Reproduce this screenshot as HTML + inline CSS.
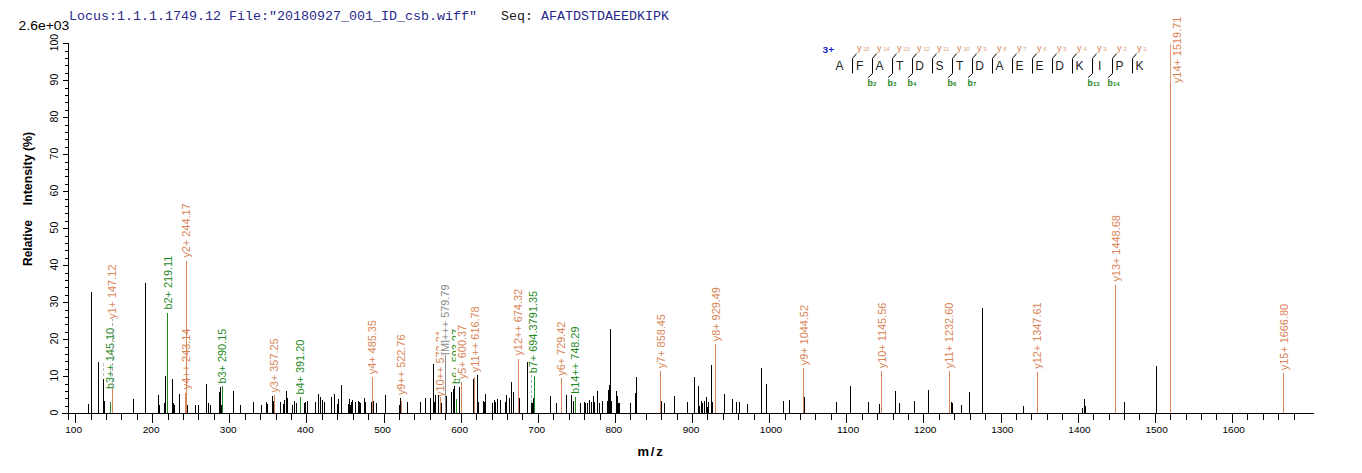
<!DOCTYPE html><html><head><meta charset="utf-8"><style>html,body{margin:0;padding:0;background:#fff;overflow:hidden;width:1362px;height:473px;}svg{display:block;}text{font-family:"Liberation Sans",sans-serif;}</style></head><body>
<svg width="1362" height="473" viewBox="0 0 1362 473">
<rect x="0" y="0" width="1362" height="473" fill="#fff"/>
<text x="69" y="19.8" style="font-family:'Liberation Mono',monospace;font-size:13.333px;white-space:pre" fill="#2a2a8c">Locus:1.1.1.1749.12 File:"20180927_001_ID_csb.wiff"<tspan fill="#1a1a1a">   Seq: </tspan>AFATDSTDAEEDKIPK</text>
<text x="18.6" y="29.8" font-size="12.2" textLength="50.7" lengthAdjust="spacingAndGlyphs" fill="#000">2.6e+03</text>
<g stroke="#000" stroke-width="1" shape-rendering="crispEdges">
<line x1="68.5" y1="43" x2="68.5" y2="420"/>
<line x1="62" y1="413.5" x2="1314" y2="413.5"/>
<line x1="62.5" y1="413.5" x2="68.5" y2="413.5"/>
<line x1="65" y1="406.5" x2="68.5" y2="406.5"/>
<line x1="65" y1="398.5" x2="68.5" y2="398.5"/>
<line x1="65" y1="391.5" x2="68.5" y2="391.5"/>
<line x1="65" y1="384.5" x2="68.5" y2="384.5"/>
<line x1="62.5" y1="376.5" x2="68.5" y2="376.5"/>
<line x1="65" y1="369.5" x2="68.5" y2="369.5"/>
<line x1="65" y1="361.5" x2="68.5" y2="361.5"/>
<line x1="65" y1="354.5" x2="68.5" y2="354.5"/>
<line x1="65" y1="347.5" x2="68.5" y2="347.5"/>
<line x1="62.5" y1="339.5" x2="68.5" y2="339.5"/>
<line x1="65" y1="332.5" x2="68.5" y2="332.5"/>
<line x1="65" y1="324.5" x2="68.5" y2="324.5"/>
<line x1="65" y1="317.5" x2="68.5" y2="317.5"/>
<line x1="65" y1="310.5" x2="68.5" y2="310.5"/>
<line x1="62.5" y1="302.5" x2="68.5" y2="302.5"/>
<line x1="65" y1="295.5" x2="68.5" y2="295.5"/>
<line x1="65" y1="287.5" x2="68.5" y2="287.5"/>
<line x1="65" y1="280.5" x2="68.5" y2="280.5"/>
<line x1="65" y1="273.5" x2="68.5" y2="273.5"/>
<line x1="62.5" y1="265.5" x2="68.5" y2="265.5"/>
<line x1="65" y1="258.5" x2="68.5" y2="258.5"/>
<line x1="65" y1="250.5" x2="68.5" y2="250.5"/>
<line x1="65" y1="243.5" x2="68.5" y2="243.5"/>
<line x1="65" y1="236.5" x2="68.5" y2="236.5"/>
<line x1="62.5" y1="228.5" x2="68.5" y2="228.5"/>
<line x1="65" y1="221.5" x2="68.5" y2="221.5"/>
<line x1="65" y1="213.5" x2="68.5" y2="213.5"/>
<line x1="65" y1="206.5" x2="68.5" y2="206.5"/>
<line x1="65" y1="199.5" x2="68.5" y2="199.5"/>
<line x1="62.5" y1="191.5" x2="68.5" y2="191.5"/>
<line x1="65" y1="184.5" x2="68.5" y2="184.5"/>
<line x1="65" y1="176.5" x2="68.5" y2="176.5"/>
<line x1="65" y1="169.5" x2="68.5" y2="169.5"/>
<line x1="65" y1="162.5" x2="68.5" y2="162.5"/>
<line x1="62.5" y1="154.5" x2="68.5" y2="154.5"/>
<line x1="65" y1="147.5" x2="68.5" y2="147.5"/>
<line x1="65" y1="139.5" x2="68.5" y2="139.5"/>
<line x1="65" y1="132.5" x2="68.5" y2="132.5"/>
<line x1="65" y1="125.5" x2="68.5" y2="125.5"/>
<line x1="62.5" y1="117.5" x2="68.5" y2="117.5"/>
<line x1="65" y1="110.5" x2="68.5" y2="110.5"/>
<line x1="65" y1="102.5" x2="68.5" y2="102.5"/>
<line x1="65" y1="95.5" x2="68.5" y2="95.5"/>
<line x1="65" y1="88.5" x2="68.5" y2="88.5"/>
<line x1="62.5" y1="80.5" x2="68.5" y2="80.5"/>
<line x1="65" y1="73.5" x2="68.5" y2="73.5"/>
<line x1="65" y1="65.5" x2="68.5" y2="65.5"/>
<line x1="65" y1="58.5" x2="68.5" y2="58.5"/>
<line x1="65" y1="51.5" x2="68.5" y2="51.5"/>
<line x1="62.5" y1="43.5" x2="68.5" y2="43.5"/>
<line x1="75.5" y1="413.5" x2="75.5" y2="423"/>
<line x1="91.5" y1="413.5" x2="91.5" y2="420"/>
<line x1="106.5" y1="413.5" x2="106.5" y2="420"/>
<line x1="121.5" y1="413.5" x2="121.5" y2="420"/>
<line x1="137.5" y1="413.5" x2="137.5" y2="420"/>
<line x1="152.5" y1="413.5" x2="152.5" y2="423"/>
<line x1="168.5" y1="413.5" x2="168.5" y2="420"/>
<line x1="183.5" y1="413.5" x2="183.5" y2="420"/>
<line x1="198.5" y1="413.5" x2="198.5" y2="420"/>
<line x1="214.5" y1="413.5" x2="214.5" y2="420"/>
<line x1="229.5" y1="413.5" x2="229.5" y2="423"/>
<line x1="245.5" y1="413.5" x2="245.5" y2="420"/>
<line x1="260.5" y1="413.5" x2="260.5" y2="420"/>
<line x1="276.5" y1="413.5" x2="276.5" y2="420"/>
<line x1="291.5" y1="413.5" x2="291.5" y2="420"/>
<line x1="306.5" y1="413.5" x2="306.5" y2="423"/>
<line x1="322.5" y1="413.5" x2="322.5" y2="420"/>
<line x1="337.5" y1="413.5" x2="337.5" y2="420"/>
<line x1="353.5" y1="413.5" x2="353.5" y2="420"/>
<line x1="368.5" y1="413.5" x2="368.5" y2="420"/>
<line x1="384.5" y1="413.5" x2="384.5" y2="423"/>
<line x1="399.5" y1="413.5" x2="399.5" y2="420"/>
<line x1="414.5" y1="413.5" x2="414.5" y2="420"/>
<line x1="430.5" y1="413.5" x2="430.5" y2="420"/>
<line x1="445.5" y1="413.5" x2="445.5" y2="420"/>
<line x1="461.5" y1="413.5" x2="461.5" y2="423"/>
<line x1="476.5" y1="413.5" x2="476.5" y2="420"/>
<line x1="492.5" y1="413.5" x2="492.5" y2="420"/>
<line x1="507.5" y1="413.5" x2="507.5" y2="420"/>
<line x1="522.5" y1="413.5" x2="522.5" y2="420"/>
<line x1="538.5" y1="413.5" x2="538.5" y2="423"/>
<line x1="553.5" y1="413.5" x2="553.5" y2="420"/>
<line x1="569.5" y1="413.5" x2="569.5" y2="420"/>
<line x1="584.5" y1="413.5" x2="584.5" y2="420"/>
<line x1="600.5" y1="413.5" x2="600.5" y2="420"/>
<line x1="615.5" y1="413.5" x2="615.5" y2="423"/>
<line x1="630.5" y1="413.5" x2="630.5" y2="420"/>
<line x1="646.5" y1="413.5" x2="646.5" y2="420"/>
<line x1="661.5" y1="413.5" x2="661.5" y2="420"/>
<line x1="677.5" y1="413.5" x2="677.5" y2="420"/>
<line x1="692.5" y1="413.5" x2="692.5" y2="423"/>
<line x1="707.5" y1="413.5" x2="707.5" y2="420"/>
<line x1="723.5" y1="413.5" x2="723.5" y2="420"/>
<line x1="738.5" y1="413.5" x2="738.5" y2="420"/>
<line x1="754.5" y1="413.5" x2="754.5" y2="420"/>
<line x1="769.5" y1="413.5" x2="769.5" y2="423"/>
<line x1="785.5" y1="413.5" x2="785.5" y2="420"/>
<line x1="800.5" y1="413.5" x2="800.5" y2="420"/>
<line x1="815.5" y1="413.5" x2="815.5" y2="420"/>
<line x1="831.5" y1="413.5" x2="831.5" y2="420"/>
<line x1="846.5" y1="413.5" x2="846.5" y2="423"/>
<line x1="862.5" y1="413.5" x2="862.5" y2="420"/>
<line x1="877.5" y1="413.5" x2="877.5" y2="420"/>
<line x1="893.5" y1="413.5" x2="893.5" y2="420"/>
<line x1="908.5" y1="413.5" x2="908.5" y2="420"/>
<line x1="923.5" y1="413.5" x2="923.5" y2="423"/>
<line x1="939.5" y1="413.5" x2="939.5" y2="420"/>
<line x1="954.5" y1="413.5" x2="954.5" y2="420"/>
<line x1="970.5" y1="413.5" x2="970.5" y2="420"/>
<line x1="985.5" y1="413.5" x2="985.5" y2="420"/>
<line x1="1001.5" y1="413.5" x2="1001.5" y2="423"/>
<line x1="1016.5" y1="413.5" x2="1016.5" y2="420"/>
<line x1="1031.5" y1="413.5" x2="1031.5" y2="420"/>
<line x1="1047.5" y1="413.5" x2="1047.5" y2="420"/>
<line x1="1062.5" y1="413.5" x2="1062.5" y2="420"/>
<line x1="1078.5" y1="413.5" x2="1078.5" y2="423"/>
<line x1="1093.5" y1="413.5" x2="1093.5" y2="420"/>
<line x1="1109.5" y1="413.5" x2="1109.5" y2="420"/>
<line x1="1124.5" y1="413.5" x2="1124.5" y2="420"/>
<line x1="1139.5" y1="413.5" x2="1139.5" y2="420"/>
<line x1="1155.5" y1="413.5" x2="1155.5" y2="423"/>
<line x1="1170.5" y1="413.5" x2="1170.5" y2="420"/>
<line x1="1186.5" y1="413.5" x2="1186.5" y2="420"/>
<line x1="1201.5" y1="413.5" x2="1201.5" y2="420"/>
<line x1="1216.5" y1="413.5" x2="1216.5" y2="420"/>
<line x1="1232.5" y1="413.5" x2="1232.5" y2="423"/>
<line x1="1247.5" y1="413.5" x2="1247.5" y2="420"/>
<line x1="1263.5" y1="413.5" x2="1263.5" y2="420"/>
<line x1="1278.5" y1="413.5" x2="1278.5" y2="420"/>
<line x1="1294.5" y1="413.5" x2="1294.5" y2="420"/>
</g>
<text transform="translate(57.6,412.6) rotate(-90)" text-anchor="middle" font-size="10.2" textLength="5.8" lengthAdjust="spacingAndGlyphs" fill="#000">0</text>
<text transform="translate(57.6,375.6) rotate(-90)" text-anchor="middle" font-size="10.2" textLength="11.6" lengthAdjust="spacingAndGlyphs" fill="#000">10</text>
<text transform="translate(57.6,338.6) rotate(-90)" text-anchor="middle" font-size="10.2" textLength="11.6" lengthAdjust="spacingAndGlyphs" fill="#000">20</text>
<text transform="translate(57.6,301.6) rotate(-90)" text-anchor="middle" font-size="10.2" textLength="11.6" lengthAdjust="spacingAndGlyphs" fill="#000">30</text>
<text transform="translate(57.6,264.6) rotate(-90)" text-anchor="middle" font-size="10.2" textLength="11.6" lengthAdjust="spacingAndGlyphs" fill="#000">40</text>
<text transform="translate(57.6,227.6) rotate(-90)" text-anchor="middle" font-size="10.2" textLength="11.6" lengthAdjust="spacingAndGlyphs" fill="#000">50</text>
<text transform="translate(57.6,190.6) rotate(-90)" text-anchor="middle" font-size="10.2" textLength="11.6" lengthAdjust="spacingAndGlyphs" fill="#000">60</text>
<text transform="translate(57.6,153.6) rotate(-90)" text-anchor="middle" font-size="10.2" textLength="11.6" lengthAdjust="spacingAndGlyphs" fill="#000">70</text>
<text transform="translate(57.6,116.6) rotate(-90)" text-anchor="middle" font-size="10.2" textLength="11.6" lengthAdjust="spacingAndGlyphs" fill="#000">80</text>
<text transform="translate(57.6,79.6) rotate(-90)" text-anchor="middle" font-size="10.2" textLength="11.6" lengthAdjust="spacingAndGlyphs" fill="#000">90</text>
<text transform="translate(57.6,42.6) rotate(-90)" text-anchor="middle" font-size="10.2" textLength="17.4" lengthAdjust="spacingAndGlyphs" fill="#000">100</text>
<text x="73.6" y="432.7" text-anchor="middle" font-size="9.3" textLength="16.7" lengthAdjust="spacingAndGlyphs" fill="#000">100</text>
<text x="151.1" y="432.7" text-anchor="middle" font-size="9.3" textLength="16.7" lengthAdjust="spacingAndGlyphs" fill="#000">200</text>
<text x="228.2" y="432.7" text-anchor="middle" font-size="9.3" textLength="16.7" lengthAdjust="spacingAndGlyphs" fill="#000">300</text>
<text x="305.4" y="432.7" text-anchor="middle" font-size="9.3" textLength="16.7" lengthAdjust="spacingAndGlyphs" fill="#000">400</text>
<text x="382.5" y="432.7" text-anchor="middle" font-size="9.3" textLength="16.7" lengthAdjust="spacingAndGlyphs" fill="#000">500</text>
<text x="459.6" y="432.7" text-anchor="middle" font-size="9.3" textLength="16.7" lengthAdjust="spacingAndGlyphs" fill="#000">600</text>
<text x="536.7" y="432.7" text-anchor="middle" font-size="9.3" textLength="16.7" lengthAdjust="spacingAndGlyphs" fill="#000">700</text>
<text x="613.8" y="432.7" text-anchor="middle" font-size="9.3" textLength="16.7" lengthAdjust="spacingAndGlyphs" fill="#000">800</text>
<text x="691.0" y="432.7" text-anchor="middle" font-size="9.3" textLength="16.7" lengthAdjust="spacingAndGlyphs" fill="#000">900</text>
<text x="771.0" y="432.7" text-anchor="middle" font-size="9.3" textLength="22.3" lengthAdjust="spacingAndGlyphs" fill="#000">1000</text>
<text x="848.1" y="432.7" text-anchor="middle" font-size="9.3" textLength="22.3" lengthAdjust="spacingAndGlyphs" fill="#000">1100</text>
<text x="925.2" y="432.7" text-anchor="middle" font-size="9.3" textLength="22.3" lengthAdjust="spacingAndGlyphs" fill="#000">1200</text>
<text x="1002.3" y="432.7" text-anchor="middle" font-size="9.3" textLength="22.3" lengthAdjust="spacingAndGlyphs" fill="#000">1300</text>
<text x="1079.5" y="432.7" text-anchor="middle" font-size="9.3" textLength="22.3" lengthAdjust="spacingAndGlyphs" fill="#000">1400</text>
<text x="1156.6" y="432.7" text-anchor="middle" font-size="9.3" textLength="22.3" lengthAdjust="spacingAndGlyphs" fill="#000">1500</text>
<text x="1233.7" y="432.7" text-anchor="middle" font-size="9.3" textLength="22.3" lengthAdjust="spacingAndGlyphs" fill="#000">1600</text>
<text transform="translate(31.6,266) rotate(-90)" font-size="13" font-weight="bold" textLength="46" lengthAdjust="spacingAndGlyphs" fill="#000">Relative</text>
<text transform="translate(31.6,205.3) rotate(-90)" font-size="13" font-weight="bold" textLength="73.5" lengthAdjust="spacingAndGlyphs" fill="#000">Intensity (%)</text>
<text x="637.5" y="455.9" font-size="13" font-weight="bold" textLength="25.2" lengthAdjust="spacing" fill="#000">m/z</text>
<line x1="110.5" y1="413" x2="110.5" y2="402.2" stroke="#1f8a1f" stroke-width="1" shape-rendering="crispEdges"/>
<line x1="103.5" y1="363" x2="103.5" y2="378" stroke="#aaa" stroke-width="1" stroke-dasharray="3,2" shape-rendering="crispEdges"/>
<rect x="103.8" y="327.9" width="12.5" height="61.2" fill="#fff"/>
<text transform="translate(113.7,389.1) rotate(-90)" font-size="10.4" textLength="61.2" lengthAdjust="spacingAndGlyphs" fill="#1f8a1f">b3++ 145.10</text>
<line x1="112.5" y1="413" x2="112.5" y2="389.2" stroke="#d98455" stroke-width="1" shape-rendering="crispEdges"/>
<line x1="112.5" y1="317.5" x2="112.5" y2="389" stroke="#aaa" stroke-width="1" stroke-dasharray="3,2" shape-rendering="crispEdges"/>
<rect x="106.4" y="264.7" width="12.5" height="54.2" fill="#fff"/>
<text transform="translate(116.3,318.90000000000003) rotate(-90)" font-size="10.4" textLength="54.2" lengthAdjust="spacingAndGlyphs" fill="#d98455">y1+ 147.12</text>
<line x1="167.5" y1="413" x2="167.5" y2="312.6" stroke="#1f8a1f" stroke-width="1" shape-rendering="crispEdges"/>
<rect x="161.8" y="255.6" width="12.5" height="54.0" fill="#fff"/>
<text transform="translate(171.7,309.6) rotate(-90)" font-size="10.4" textLength="54.0" lengthAdjust="spacingAndGlyphs" fill="#1f8a1f">b2+ 219.11</text>
<line x1="185.5" y1="413" x2="185.5" y2="393.2" stroke="#d98455" stroke-width="1" shape-rendering="crispEdges"/>
<rect x="179.8" y="328.6" width="12.5" height="60.6" fill="#fff"/>
<text transform="translate(189.7,389.20000000000005) rotate(-90)" font-size="10.4" textLength="60.6" lengthAdjust="spacingAndGlyphs" fill="#d98455">y4++ 243.14</text>
<line x1="186.5" y1="413" x2="186.5" y2="260.8" stroke="#d98455" stroke-width="1" shape-rendering="crispEdges"/>
<rect x="180.4" y="203.4" width="12.5" height="54.2" fill="#fff"/>
<text transform="translate(190.29999999999998,257.6) rotate(-90)" font-size="10.4" textLength="54.2" lengthAdjust="spacingAndGlyphs" fill="#d98455">y2+ 244.17</text>
<line x1="222.5" y1="413" x2="222.5" y2="386.2" stroke="#1f8a1f" stroke-width="1" shape-rendering="crispEdges"/>
<rect x="215.8" y="328.7" width="12.5" height="54.9" fill="#fff"/>
<text transform="translate(225.7,383.6) rotate(-90)" font-size="10.4" textLength="54.9" lengthAdjust="spacingAndGlyphs" fill="#1f8a1f">b3+ 290.15</text>
<line x1="274.5" y1="413" x2="274.5" y2="395.2" stroke="#d98455" stroke-width="1" shape-rendering="crispEdges"/>
<rect x="268.3" y="338.4" width="12.5" height="54.2" fill="#fff"/>
<text transform="translate(278.2,392.6) rotate(-90)" font-size="10.4" textLength="54.2" lengthAdjust="spacingAndGlyphs" fill="#d98455">y3+ 357.25</text>
<line x1="300.5" y1="413" x2="300.5" y2="397.2" stroke="#1f8a1f" stroke-width="1" shape-rendering="crispEdges"/>
<rect x="294.0" y="339.7" width="12.5" height="54.9" fill="#fff"/>
<text transform="translate(303.9,394.6) rotate(-90)" font-size="10.4" textLength="54.9" lengthAdjust="spacingAndGlyphs" fill="#1f8a1f">b4+ 391.20</text>
<line x1="372.5" y1="413" x2="372.5" y2="377.2" stroke="#d98455" stroke-width="1" shape-rendering="crispEdges"/>
<rect x="365.6" y="320.1" width="12.5" height="54.2" fill="#fff"/>
<text transform="translate(375.5,374.3) rotate(-90)" font-size="10.4" textLength="54.2" lengthAdjust="spacingAndGlyphs" fill="#d98455">y4+ 485.35</text>
<line x1="401.5" y1="413" x2="401.5" y2="400.6" stroke="#d98455" stroke-width="1" shape-rendering="crispEdges"/>
<rect x="394.8" y="334.5" width="12.5" height="60.6" fill="#fff"/>
<text transform="translate(404.7,395.1) rotate(-90)" font-size="10.4" textLength="60.6" lengthAdjust="spacingAndGlyphs" fill="#d98455">y9++ 522.76</text>
<line x1="440.5" y1="413" x2="440.5" y2="397.2" stroke="#d98455" stroke-width="1" shape-rendering="crispEdges"/>
<rect x="434.4" y="330.2" width="12.5" height="66.7" fill="#fff"/>
<text transform="translate(444.3,396.90000000000003) rotate(-90)" font-size="10.4" textLength="66.7" lengthAdjust="spacingAndGlyphs" fill="#d98455">y10++ 573.31</text>
<line x1="445.5" y1="413" x2="445.5" y2="355.2" stroke="#8a8a8a" stroke-width="1" shape-rendering="crispEdges"/>
<rect x="439.0" y="284.5" width="12.5" height="70.6" fill="#fff"/>
<text transform="translate(448.9,355.1) rotate(-90)" font-size="10.4" textLength="70.6" lengthAdjust="spacingAndGlyphs" fill="#8a8a8a">[M]+++ 579.79</text>
<line x1="456.5" y1="413" x2="456.5" y2="399.2" stroke="#1f8a1f" stroke-width="1" shape-rendering="crispEdges"/>
<rect x="449.6" y="329.0" width="12.5" height="54.9" fill="#fff"/>
<text transform="translate(459.5,383.90000000000003) rotate(-90)" font-size="10.4" textLength="54.9" lengthAdjust="spacingAndGlyphs" fill="#1f8a1f">b6+ 593.27</text>
<line x1="461.5" y1="413" x2="461.5" y2="382.2" stroke="#d98455" stroke-width="1" shape-rendering="crispEdges"/>
<rect x="455.8" y="324.9" width="12.5" height="54.2" fill="#fff"/>
<text transform="translate(465.7,379.1) rotate(-90)" font-size="10.4" textLength="54.2" lengthAdjust="spacingAndGlyphs" fill="#d98455">y5+ 600.37</text>
<line x1="474.5" y1="413" x2="474.5" y2="376.7" stroke="#d98455" stroke-width="1" shape-rendering="crispEdges"/>
<rect x="468.8" y="306.3" width="12.5" height="65.9" fill="#fff"/>
<text transform="translate(478.7,372.20000000000005) rotate(-90)" font-size="10.4" textLength="65.9" lengthAdjust="spacingAndGlyphs" fill="#d98455">y11++ 616.78</text>
<line x1="518.5" y1="413" x2="518.5" y2="358.7" stroke="#d98455" stroke-width="1" shape-rendering="crispEdges"/>
<rect x="512.3" y="288.9" width="12.5" height="66.7" fill="#fff"/>
<text transform="translate(522.2,355.6) rotate(-90)" font-size="10.4" textLength="66.7" lengthAdjust="spacingAndGlyphs" fill="#d98455">y12++ 674.32</text>
<line x1="531.5" y1="413" x2="531.5" y2="403.2" stroke="#1f8a1f" stroke-width="1" shape-rendering="crispEdges"/>
<line x1="531.5" y1="355" x2="531.5" y2="403" stroke="#aaa" stroke-width="1" stroke-dasharray="3,2" shape-rendering="crispEdges"/>
<rect x="527.4" y="290.9" width="12.5" height="67.3" fill="#fff"/>
<text transform="translate(537.3000000000001,358.20000000000005) rotate(-90)" font-size="10.4" textLength="67.3" lengthAdjust="spacingAndGlyphs" fill="#1f8a1f">b13++ 691.35</text>
<line x1="534.5" y1="413" x2="534.5" y2="376.2" stroke="#1f8a1f" stroke-width="1" shape-rendering="crispEdges"/>
<rect x="527.4" y="318.4" width="12.5" height="54.9" fill="#fff"/>
<text transform="translate(537.3000000000001,373.3) rotate(-90)" font-size="10.4" textLength="54.9" lengthAdjust="spacingAndGlyphs" fill="#1f8a1f">b7+ 694.37</text>
<line x1="561.5" y1="413" x2="561.5" y2="378.2" stroke="#d98455" stroke-width="1" shape-rendering="crispEdges"/>
<rect x="555.1" y="321.6" width="12.5" height="54.2" fill="#fff"/>
<text transform="translate(565.0,375.8) rotate(-90)" font-size="10.4" textLength="54.2" lengthAdjust="spacingAndGlyphs" fill="#d98455">y6+ 729.42</text>
<line x1="575.5" y1="413" x2="575.5" y2="397.2" stroke="#1f8a1f" stroke-width="1" shape-rendering="crispEdges"/>
<rect x="569.3" y="326.5" width="12.5" height="67.3" fill="#fff"/>
<text transform="translate(579.2,393.8) rotate(-90)" font-size="10.4" textLength="67.3" lengthAdjust="spacingAndGlyphs" fill="#1f8a1f">b14++ 748.29</text>
<line x1="660.5" y1="413" x2="660.5" y2="371.2" stroke="#d98455" stroke-width="1" shape-rendering="crispEdges"/>
<rect x="654.8" y="314.1" width="12.5" height="54.2" fill="#fff"/>
<text transform="translate(664.7,368.3) rotate(-90)" font-size="10.4" textLength="54.2" lengthAdjust="spacingAndGlyphs" fill="#d98455">y7+ 858.45</text>
<line x1="715.5" y1="413" x2="715.5" y2="344.2" stroke="#d98455" stroke-width="1" shape-rendering="crispEdges"/>
<rect x="709.8" y="287.1" width="12.5" height="54.2" fill="#fff"/>
<text transform="translate(719.7,341.3) rotate(-90)" font-size="10.4" textLength="54.2" lengthAdjust="spacingAndGlyphs" fill="#d98455">y8+ 929.49</text>
<line x1="803.5" y1="413" x2="803.5" y2="368.2" stroke="#d98455" stroke-width="1" shape-rendering="crispEdges"/>
<rect x="798.3" y="305.0" width="12.5" height="60.3" fill="#fff"/>
<text transform="translate(808.2,365.3) rotate(-90)" font-size="10.4" textLength="60.3" lengthAdjust="spacingAndGlyphs" fill="#d98455">y9+ 1044.52</text>
<line x1="881.5" y1="413" x2="881.5" y2="371.2" stroke="#d98455" stroke-width="1" shape-rendering="crispEdges"/>
<rect x="876.3" y="302.7" width="12.5" height="65.6" fill="#fff"/>
<text transform="translate(886.2,368.3) rotate(-90)" font-size="10.4" textLength="65.6" lengthAdjust="spacingAndGlyphs" fill="#d98455">y10+ 1145.56</text>
<line x1="949.5" y1="413" x2="949.5" y2="371.2" stroke="#d98455" stroke-width="1" shape-rendering="crispEdges"/>
<rect x="943.3" y="302.7" width="12.5" height="65.6" fill="#fff"/>
<text transform="translate(953.2,368.3) rotate(-90)" font-size="10.4" textLength="65.6" lengthAdjust="spacingAndGlyphs" fill="#d98455">y11+ 1232.60</text>
<line x1="1037.5" y1="413" x2="1037.5" y2="371.7" stroke="#d98455" stroke-width="1" shape-rendering="crispEdges"/>
<rect x="1031.3" y="302.4" width="12.5" height="66.4" fill="#fff"/>
<text transform="translate(1041.2,368.8) rotate(-90)" font-size="10.4" textLength="66.4" lengthAdjust="spacingAndGlyphs" fill="#d98455">y12+ 1347.61</text>
<line x1="1115.5" y1="413" x2="1115.5" y2="285.2" stroke="#d98455" stroke-width="1" shape-rendering="crispEdges"/>
<rect x="1109.8" y="215.2" width="12.5" height="66.4" fill="#fff"/>
<text transform="translate(1119.7,281.6) rotate(-90)" font-size="10.4" textLength="66.4" lengthAdjust="spacingAndGlyphs" fill="#d98455">y13+ 1448.68</text>
<line x1="1170.5" y1="413" x2="1170.5" y2="44.2" stroke="#d98455" stroke-width="1" shape-rendering="crispEdges"/>
<rect x="1170.8" y="16.7" width="12.5" height="66.4" fill="#fff"/>
<text transform="translate(1180.7,83.1) rotate(-90)" font-size="10.4" textLength="66.4" lengthAdjust="spacingAndGlyphs" fill="#d98455">y14+ 1519.71</text>
<line x1="1283.5" y1="413" x2="1283.5" y2="373.2" stroke="#d98455" stroke-width="1" shape-rendering="crispEdges"/>
<rect x="1277.8" y="303.9" width="12.5" height="66.4" fill="#fff"/>
<text transform="translate(1287.7,370.3) rotate(-90)" font-size="10.4" textLength="66.4" lengthAdjust="spacingAndGlyphs" fill="#d98455">y15+ 1666.80</text>
<g stroke="#000" stroke-width="1" shape-rendering="crispEdges">
<line x1="88.5" y1="413" x2="88.5" y2="404.2"/>
<line x1="91.5" y1="413" x2="91.5" y2="291.6"/>
<line x1="98.5" y1="413" x2="98.5" y2="361.9"/>
<line x1="103.5" y1="413" x2="103.5" y2="378.7"/>
<line x1="104.5" y1="413" x2="104.5" y2="401.2"/>
<line x1="133.5" y1="413" x2="133.5" y2="399.2"/>
<line x1="145.5" y1="413" x2="145.5" y2="282.8"/>
<line x1="158.5" y1="413" x2="158.5" y2="395.2"/>
<line x1="159.5" y1="413" x2="159.5" y2="405.2"/>
<line x1="164.5" y1="413" x2="164.5" y2="403.2"/>
<line x1="165.5" y1="413" x2="165.5" y2="376.2"/>
<line x1="172.5" y1="413" x2="172.5" y2="378.7"/>
<line x1="173.5" y1="413" x2="173.5" y2="403.2"/>
<line x1="174.5" y1="413" x2="174.5" y2="405.2"/>
<line x1="179.5" y1="413" x2="179.5" y2="393.9"/>
<line x1="187.5" y1="413" x2="187.5" y2="405.2"/>
<line x1="195.5" y1="413" x2="195.5" y2="405.2"/>
<line x1="198.5" y1="413" x2="198.5" y2="405.2"/>
<line x1="206.5" y1="413" x2="206.5" y2="384.2"/>
<line x1="208.5" y1="413" x2="208.5" y2="403.2"/>
<line x1="210.5" y1="413" x2="210.5" y2="405.2"/>
<line x1="219.5" y1="413" x2="219.5" y2="392.2"/>
<line x1="220.5" y1="413" x2="220.5" y2="387.2"/>
<line x1="221.5" y1="413" x2="221.5" y2="405.2"/>
<line x1="233.5" y1="413" x2="233.5" y2="391.2"/>
<line x1="240.5" y1="413" x2="240.5" y2="405.2"/>
<line x1="253.5" y1="413" x2="253.5" y2="402.2"/>
<line x1="261.5" y1="413" x2="261.5" y2="405.2"/>
<line x1="266.5" y1="413" x2="266.5" y2="402.2"/>
<line x1="267.5" y1="413" x2="267.5" y2="403.7"/>
<line x1="272.5" y1="413" x2="272.5" y2="396.2"/>
<line x1="273.5" y1="413" x2="273.5" y2="401.2"/>
<line x1="280.5" y1="413" x2="280.5" y2="402.2"/>
<line x1="283.5" y1="413" x2="283.5" y2="404.2"/>
<line x1="284.5" y1="413" x2="284.5" y2="400.2"/>
<line x1="286.5" y1="413" x2="286.5" y2="391.2"/>
<line x1="287.5" y1="413" x2="287.5" y2="398.2"/>
<line x1="292.5" y1="413" x2="292.5" y2="405.2"/>
<line x1="294.5" y1="413" x2="294.5" y2="401.2"/>
<line x1="296.5" y1="413" x2="296.5" y2="403.2"/>
<line x1="304.5" y1="413" x2="304.5" y2="403.2"/>
<line x1="305.5" y1="413" x2="305.5" y2="402.2"/>
<line x1="307.5" y1="413" x2="307.5" y2="401.2"/>
<line x1="315.5" y1="413" x2="315.5" y2="402.2"/>
<line x1="318.5" y1="413" x2="318.5" y2="394.2"/>
<line x1="320.5" y1="413" x2="320.5" y2="397.2"/>
<line x1="322.5" y1="413" x2="322.5" y2="400.2"/>
<line x1="324.5" y1="413" x2="324.5" y2="402.2"/>
<line x1="331.5" y1="413" x2="331.5" y2="397.2"/>
<line x1="334.5" y1="413" x2="334.5" y2="394.2"/>
<line x1="337.5" y1="413" x2="337.5" y2="404.2"/>
<line x1="338.5" y1="413" x2="338.5" y2="399.2"/>
<line x1="341.5" y1="413" x2="341.5" y2="385.2"/>
<line x1="348.5" y1="413" x2="348.5" y2="404.2"/>
<line x1="349.5" y1="413" x2="349.5" y2="399.2"/>
<line x1="350.5" y1="413" x2="350.5" y2="405.2"/>
<line x1="351.5" y1="413" x2="351.5" y2="402.2"/>
<line x1="352.5" y1="413" x2="352.5" y2="400.2"/>
<line x1="355.5" y1="413" x2="355.5" y2="402.2"/>
<line x1="358.5" y1="413" x2="358.5" y2="401.2"/>
<line x1="359.5" y1="413" x2="359.5" y2="402.2"/>
<line x1="360.5" y1="413" x2="360.5" y2="403.2"/>
<line x1="364.5" y1="413" x2="364.5" y2="398.2"/>
<line x1="365.5" y1="413" x2="365.5" y2="402.2"/>
<line x1="371.5" y1="413" x2="371.5" y2="402.2"/>
<line x1="373.5" y1="413" x2="373.5" y2="401.2"/>
<line x1="376.5" y1="413" x2="376.5" y2="403.2"/>
<line x1="385.5" y1="413" x2="385.5" y2="395.2"/>
<line x1="399.5" y1="413" x2="399.5" y2="405.2"/>
<line x1="400.5" y1="413" x2="400.5" y2="398.2"/>
<line x1="407.5" y1="413" x2="407.5" y2="402.2"/>
<line x1="420.5" y1="413" x2="420.5" y2="402.2"/>
<line x1="425.5" y1="413" x2="425.5" y2="398.2"/>
<line x1="430.5" y1="413" x2="430.5" y2="398.2"/>
<line x1="433.5" y1="413" x2="433.5" y2="364.2"/>
<line x1="434.5" y1="413" x2="434.5" y2="402.2"/>
<line x1="435.5" y1="413" x2="435.5" y2="395.2"/>
<line x1="438.5" y1="413" x2="438.5" y2="395.2"/>
<line x1="441.5" y1="413" x2="441.5" y2="403.2"/>
<line x1="446.5" y1="413" x2="446.5" y2="396.2"/>
<line x1="451.5" y1="413" x2="451.5" y2="392.2"/>
<line x1="453.5" y1="413" x2="453.5" y2="389.2"/>
<line x1="454.5" y1="413" x2="454.5" y2="386.2"/>
<line x1="459.5" y1="413" x2="459.5" y2="387.2"/>
<line x1="473.5" y1="413" x2="473.5" y2="378.7"/>
<line x1="477.5" y1="413" x2="477.5" y2="375.2"/>
<line x1="478.5" y1="413" x2="478.5" y2="402.2"/>
<line x1="483.5" y1="413" x2="483.5" y2="401.2"/>
<line x1="484.5" y1="413" x2="484.5" y2="402.2"/>
<line x1="485.5" y1="413" x2="485.5" y2="394.2"/>
<line x1="492.5" y1="413" x2="492.5" y2="403.2"/>
<line x1="494.5" y1="413" x2="494.5" y2="400.2"/>
<line x1="495.5" y1="413" x2="495.5" y2="402.2"/>
<line x1="497.5" y1="413" x2="497.5" y2="399.2"/>
<line x1="500.5" y1="413" x2="500.5" y2="400.2"/>
<line x1="505.5" y1="413" x2="505.5" y2="402.2"/>
<line x1="506.5" y1="413" x2="506.5" y2="395.2"/>
<line x1="509.5" y1="413" x2="509.5" y2="398.2"/>
<line x1="511.5" y1="413" x2="511.5" y2="382.2"/>
<line x1="513.5" y1="413" x2="513.5" y2="392.2"/>
<line x1="519.5" y1="413" x2="519.5" y2="398.2"/>
<line x1="527.5" y1="413" x2="527.5" y2="361.7"/>
<line x1="531.5" y1="413" x2="531.5" y2="403.2"/>
<line x1="532.5" y1="413" x2="532.5" y2="403.2"/>
<line x1="533.5" y1="413" x2="533.5" y2="398.2"/>
<line x1="550.5" y1="413" x2="550.5" y2="396.2"/>
<line x1="556.5" y1="413" x2="556.5" y2="403.2"/>
<line x1="566.5" y1="413" x2="566.5" y2="395.2"/>
<line x1="571.5" y1="413" x2="571.5" y2="395.2"/>
<line x1="573.5" y1="413" x2="573.5" y2="401.2"/>
<line x1="580.5" y1="413" x2="580.5" y2="403.2"/>
<line x1="584.5" y1="413" x2="584.5" y2="402.2"/>
<line x1="585.5" y1="413" x2="585.5" y2="403.2"/>
<line x1="587.5" y1="413" x2="587.5" y2="403.2"/>
<line x1="589.5" y1="413" x2="589.5" y2="400.2"/>
<line x1="591.5" y1="413" x2="591.5" y2="402.2"/>
<line x1="593.5" y1="413" x2="593.5" y2="396.2"/>
<line x1="594.5" y1="413" x2="594.5" y2="402.2"/>
<line x1="597.5" y1="413" x2="597.5" y2="391.2"/>
<line x1="599.5" y1="413" x2="599.5" y2="403.2"/>
<line x1="602.5" y1="413" x2="602.5" y2="401.2"/>
<line x1="607.5" y1="413" x2="607.5" y2="401.2"/>
<line x1="608.5" y1="413" x2="608.5" y2="390.2"/>
<line x1="609.5" y1="413" x2="609.5" y2="385.2"/>
<line x1="610.5" y1="413" x2="610.5" y2="329.2"/>
<line x1="611.5" y1="413" x2="611.5" y2="401.2"/>
<line x1="616.5" y1="413" x2="616.5" y2="391.2"/>
<line x1="617.5" y1="413" x2="617.5" y2="396.2"/>
<line x1="618.5" y1="413" x2="618.5" y2="403.2"/>
<line x1="619.5" y1="413" x2="619.5" y2="403.2"/>
<line x1="630.5" y1="413" x2="630.5" y2="403.2"/>
<line x1="635.5" y1="413" x2="635.5" y2="393.2"/>
<line x1="636.5" y1="413" x2="636.5" y2="377.2"/>
<line x1="661.5" y1="413" x2="661.5" y2="401.2"/>
<line x1="664.5" y1="413" x2="664.5" y2="403.2"/>
<line x1="674.5" y1="413" x2="674.5" y2="396.2"/>
<line x1="687.5" y1="413" x2="687.5" y2="402.2"/>
<line x1="694.5" y1="413" x2="694.5" y2="377.2"/>
<line x1="698.5" y1="413" x2="698.5" y2="386.2"/>
<line x1="699.5" y1="413" x2="699.5" y2="406.2"/>
<line x1="701.5" y1="413" x2="701.5" y2="401.2"/>
<line x1="702.5" y1="413" x2="702.5" y2="403.2"/>
<line x1="704.5" y1="413" x2="704.5" y2="401.2"/>
<line x1="706.5" y1="413" x2="706.5" y2="397.2"/>
<line x1="707.5" y1="413" x2="707.5" y2="407.2"/>
<line x1="708.5" y1="413" x2="708.5" y2="402.2"/>
<line x1="711.5" y1="413" x2="711.5" y2="364.7"/>
<line x1="712.5" y1="413" x2="712.5" y2="402.2"/>
<line x1="724.5" y1="413" x2="724.5" y2="394.2"/>
<line x1="732.5" y1="413" x2="732.5" y2="399.2"/>
<line x1="736.5" y1="413" x2="736.5" y2="402.2"/>
<line x1="739.5" y1="413" x2="739.5" y2="402.2"/>
<line x1="747.5" y1="413" x2="747.5" y2="404.2"/>
<line x1="761.5" y1="413" x2="761.5" y2="368.2"/>
<line x1="766.5" y1="413" x2="766.5" y2="384.2"/>
<line x1="783.5" y1="413" x2="783.5" y2="401.2"/>
<line x1="789.5" y1="413" x2="789.5" y2="400.2"/>
<line x1="804.5" y1="413" x2="804.5" y2="397.2"/>
<line x1="836.5" y1="413" x2="836.5" y2="402.2"/>
<line x1="850.5" y1="413" x2="850.5" y2="386.2"/>
<line x1="868.5" y1="413" x2="868.5" y2="402.2"/>
<line x1="879.5" y1="413" x2="879.5" y2="404.2"/>
<line x1="895.5" y1="413" x2="895.5" y2="391.2"/>
<line x1="899.5" y1="413" x2="899.5" y2="403.2"/>
<line x1="914.5" y1="413" x2="914.5" y2="401.2"/>
<line x1="928.5" y1="413" x2="928.5" y2="390.2"/>
<line x1="951.5" y1="413" x2="951.5" y2="402.2"/>
<line x1="952.5" y1="413" x2="952.5" y2="403.2"/>
<line x1="961.5" y1="413" x2="961.5" y2="405.2"/>
<line x1="969.5" y1="413" x2="969.5" y2="392.2"/>
<line x1="982.5" y1="413" x2="982.5" y2="307.8"/>
<line x1="1023.5" y1="413" x2="1023.5" y2="406.2"/>
<line x1="1082.5" y1="413" x2="1082.5" y2="408.2"/>
<line x1="1084.5" y1="413" x2="1084.5" y2="399.2"/>
<line x1="1085.5" y1="413" x2="1085.5" y2="406.2"/>
<line x1="1124.5" y1="413" x2="1124.5" y2="402.2"/>
<line x1="1156.5" y1="413" x2="1156.5" y2="366.2"/>
</g>
<text x="822.5" y="52.8" font-size="9.2" font-weight="bold" textLength="11.6" lengthAdjust="spacingAndGlyphs" fill="#1c1cc8">3+</text>
<text x="839.6" y="69.9" text-anchor="middle" font-size="12" fill="#222">A</text>
<text x="859.6" y="69.9" text-anchor="middle" font-size="12" fill="#222">F</text>
<text x="879.6" y="69.9" text-anchor="middle" font-size="12" fill="#222">A</text>
<text x="899.6" y="69.9" text-anchor="middle" font-size="12" fill="#222">T</text>
<text x="919.6" y="69.9" text-anchor="middle" font-size="12" fill="#222">D</text>
<text x="939.6" y="69.9" text-anchor="middle" font-size="12" fill="#222">S</text>
<text x="959.6" y="69.9" text-anchor="middle" font-size="12" fill="#222">T</text>
<text x="979.6" y="69.9" text-anchor="middle" font-size="12" fill="#222">D</text>
<text x="999.6" y="69.9" text-anchor="middle" font-size="12" fill="#222">A</text>
<text x="1019.6" y="69.9" text-anchor="middle" font-size="12" fill="#222">E</text>
<text x="1039.6" y="69.9" text-anchor="middle" font-size="12" fill="#222">E</text>
<text x="1059.6" y="69.9" text-anchor="middle" font-size="12" fill="#222">D</text>
<text x="1079.6" y="69.9" text-anchor="middle" font-size="12" fill="#222">K</text>
<text x="1099.6" y="69.9" text-anchor="middle" font-size="12" fill="#222">I</text>
<text x="1119.6" y="69.9" text-anchor="middle" font-size="12" fill="#222">P</text>
<text x="1139.6" y="69.9" text-anchor="middle" font-size="12" fill="#222">K</text>
<path d="M856.5,53.7 L852.5,58.5 L852.5,73.5" fill="none" stroke="#000" stroke-width="1"/>
<text x="856.9" y="50.5" font-size="9" fill="#d98455">y</text><text x="863.5" y="50.8" font-size="5.5" fill="#d98455" opacity="0.8">15</text>
<path d="M876.5,53.7 L872.5,58.5 L872.5,73.5" fill="none" stroke="#000" stroke-width="1"/>
<text x="876.9" y="50.5" font-size="9" fill="#d98455">y</text><text x="883.5" y="50.8" font-size="5.5" fill="#d98455" opacity="0.8">14</text>
<path d="M872.5,73.5 L868.2,77.5" fill="none" stroke="#000" stroke-width="1"/>
<text x="867.5" y="85.8" font-size="8.8" font-weight="bold" fill="#1f8a1f">b</text><text x="873.0" y="85.6" font-size="6" font-weight="bold" fill="#1f8a1f">2</text>
<path d="M896.5,53.7 L892.5,58.5 L892.5,73.5" fill="none" stroke="#000" stroke-width="1"/>
<text x="896.9" y="50.5" font-size="9" fill="#d98455">y</text><text x="903.5" y="50.8" font-size="5.5" fill="#d98455" opacity="0.8">13</text>
<path d="M892.5,73.5 L888.2,77.5" fill="none" stroke="#000" stroke-width="1"/>
<text x="887.5" y="85.8" font-size="8.8" font-weight="bold" fill="#1f8a1f">b</text><text x="893.0" y="85.6" font-size="6" font-weight="bold" fill="#1f8a1f">3</text>
<path d="M916.5,53.7 L912.5,58.5 L912.5,73.5" fill="none" stroke="#000" stroke-width="1"/>
<text x="916.9" y="50.5" font-size="9" fill="#d98455">y</text><text x="923.5" y="50.8" font-size="5.5" fill="#d98455" opacity="0.8">12</text>
<path d="M912.5,73.5 L908.2,77.5" fill="none" stroke="#000" stroke-width="1"/>
<text x="907.5" y="85.8" font-size="8.8" font-weight="bold" fill="#1f8a1f">b</text><text x="913.0" y="85.6" font-size="6" font-weight="bold" fill="#1f8a1f">4</text>
<path d="M936.5,53.7 L932.5,58.5 L932.5,73.5" fill="none" stroke="#000" stroke-width="1"/>
<text x="936.9" y="50.5" font-size="9" fill="#d98455">y</text><text x="943.5" y="50.8" font-size="5.5" fill="#d98455" opacity="0.8">11</text>
<path d="M956.5,53.7 L952.5,58.5 L952.5,73.5" fill="none" stroke="#000" stroke-width="1"/>
<text x="956.9" y="50.5" font-size="9" fill="#d98455">y</text><text x="963.5" y="50.8" font-size="5.5" fill="#d98455" opacity="0.8">10</text>
<path d="M952.5,73.5 L948.2,77.5" fill="none" stroke="#000" stroke-width="1"/>
<text x="947.5" y="85.8" font-size="8.8" font-weight="bold" fill="#1f8a1f">b</text><text x="953.0" y="85.6" font-size="6" font-weight="bold" fill="#1f8a1f">6</text>
<path d="M976.5,53.7 L972.5,58.5 L972.5,73.5" fill="none" stroke="#000" stroke-width="1"/>
<text x="976.9" y="50.5" font-size="9" fill="#d98455">y</text><text x="983.5" y="50.8" font-size="5.5" fill="#d98455" opacity="0.8">9</text>
<path d="M972.5,73.5 L968.2,77.5" fill="none" stroke="#000" stroke-width="1"/>
<text x="967.5" y="85.8" font-size="8.8" font-weight="bold" fill="#1f8a1f">b</text><text x="973.0" y="85.6" font-size="6" font-weight="bold" fill="#1f8a1f">7</text>
<path d="M996.5,53.7 L992.5,58.5 L992.5,73.5" fill="none" stroke="#000" stroke-width="1"/>
<text x="996.9" y="50.5" font-size="9" fill="#d98455">y</text><text x="1003.5" y="50.8" font-size="5.5" fill="#d98455" opacity="0.8">8</text>
<path d="M1016.5,53.7 L1012.5,58.5 L1012.5,73.5" fill="none" stroke="#000" stroke-width="1"/>
<text x="1016.9" y="50.5" font-size="9" fill="#d98455">y</text><text x="1023.5" y="50.8" font-size="5.5" fill="#d98455" opacity="0.8">7</text>
<path d="M1036.5,53.7 L1032.5,58.5 L1032.5,73.5" fill="none" stroke="#000" stroke-width="1"/>
<text x="1036.9" y="50.5" font-size="9" fill="#d98455">y</text><text x="1043.5" y="50.8" font-size="5.5" fill="#d98455" opacity="0.8">6</text>
<path d="M1056.5,53.7 L1052.5,58.5 L1052.5,73.5" fill="none" stroke="#000" stroke-width="1"/>
<text x="1056.9" y="50.5" font-size="9" fill="#d98455">y</text><text x="1063.5" y="50.8" font-size="5.5" fill="#d98455" opacity="0.8">5</text>
<path d="M1076.5,53.7 L1072.5,58.5 L1072.5,73.5" fill="none" stroke="#000" stroke-width="1"/>
<text x="1076.9" y="50.5" font-size="9" fill="#d98455">y</text><text x="1083.5" y="50.8" font-size="5.5" fill="#d98455" opacity="0.8">4</text>
<path d="M1096.5,53.7 L1092.5,58.5 L1092.5,73.5" fill="none" stroke="#000" stroke-width="1"/>
<text x="1096.9" y="50.5" font-size="9" fill="#d98455">y</text><text x="1103.5" y="50.8" font-size="5.5" fill="#d98455" opacity="0.8">3</text>
<path d="M1092.5,73.5 L1088.2,77.5" fill="none" stroke="#000" stroke-width="1"/>
<text x="1087.5" y="85.8" font-size="8.8" font-weight="bold" fill="#1f8a1f">b</text><text x="1093.0" y="85.6" font-size="6" font-weight="bold" fill="#1f8a1f">13</text>
<path d="M1116.5,53.7 L1112.5,58.5 L1112.5,73.5" fill="none" stroke="#000" stroke-width="1"/>
<text x="1116.9" y="50.5" font-size="9" fill="#d98455">y</text><text x="1123.5" y="50.8" font-size="5.5" fill="#d98455" opacity="0.8">2</text>
<path d="M1112.5,73.5 L1108.2,77.5" fill="none" stroke="#000" stroke-width="1"/>
<text x="1107.5" y="85.8" font-size="8.8" font-weight="bold" fill="#1f8a1f">b</text><text x="1113.0" y="85.6" font-size="6" font-weight="bold" fill="#1f8a1f">14</text>
<path d="M1136.5,53.7 L1132.5,58.5 L1132.5,73.5" fill="none" stroke="#000" stroke-width="1"/>
<text x="1136.9" y="50.5" font-size="9" fill="#d98455">y</text><text x="1143.5" y="50.8" font-size="5.5" fill="#d98455" opacity="0.8">1</text>
</svg></body></html>
